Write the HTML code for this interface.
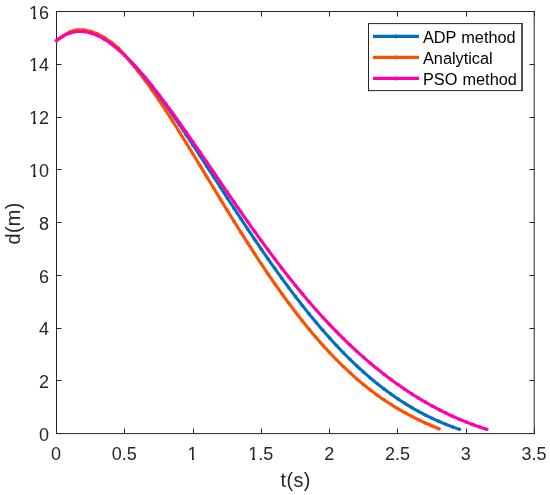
<!DOCTYPE html>
<html><head><meta charset="utf-8"><title>d(m) vs t(s)</title>
<style>
html,body{margin:0;padding:0;background:#fff;}
body{width:550px;height:495px;overflow:hidden;}
svg{display:block;font-family:"Liberation Sans",Arial,sans-serif;}
</style></head><body>
<svg width="550" height="495" viewBox="0 0 550 495">
<rect width="550" height="495" fill="#fff"/>
<g stroke="#262626" stroke-width="1" fill="none"><path d="M56.5,11.5 H534.2 M534.2,11 V434.1 M56,433.6 H534.7 M56.5,11 V434.1"/><line x1="56.5" y1="433.5" x2="56.5" y2="428.5"/><line x1="56.5" y1="11.5" x2="56.5" y2="16.5"/><line x1="124.5" y1="433.5" x2="124.5" y2="428.5"/><line x1="124.5" y1="11.5" x2="124.5" y2="16.5"/><line x1="193.5" y1="433.5" x2="193.5" y2="428.5"/><line x1="193.5" y1="11.5" x2="193.5" y2="16.5"/><line x1="261.5" y1="433.5" x2="261.5" y2="428.5"/><line x1="261.5" y1="11.5" x2="261.5" y2="16.5"/><line x1="329.5" y1="433.5" x2="329.5" y2="428.5"/><line x1="329.5" y1="11.5" x2="329.5" y2="16.5"/><line x1="397.5" y1="433.5" x2="397.5" y2="428.5"/><line x1="397.5" y1="11.5" x2="397.5" y2="16.5"/><line x1="466.5" y1="433.5" x2="466.5" y2="428.5"/><line x1="466.5" y1="11.5" x2="466.5" y2="16.5"/><line x1="534.5" y1="433.5" x2="534.5" y2="428.5"/><line x1="534.5" y1="11.5" x2="534.5" y2="16.5"/><line x1="56.5" y1="433.5" x2="61.5" y2="433.5"/><line x1="534.5" y1="433.5" x2="529.5" y2="433.5"/><line x1="56.5" y1="380.5" x2="61.5" y2="380.5"/><line x1="534.5" y1="380.5" x2="529.5" y2="380.5"/><line x1="56.5" y1="328.5" x2="61.5" y2="328.5"/><line x1="534.5" y1="328.5" x2="529.5" y2="328.5"/><line x1="56.5" y1="275.5" x2="61.5" y2="275.5"/><line x1="534.5" y1="275.5" x2="529.5" y2="275.5"/><line x1="56.5" y1="222.5" x2="61.5" y2="222.5"/><line x1="534.5" y1="222.5" x2="529.5" y2="222.5"/><line x1="56.5" y1="169.5" x2="61.5" y2="169.5"/><line x1="534.5" y1="169.5" x2="529.5" y2="169.5"/><line x1="56.5" y1="117.5" x2="61.5" y2="117.5"/><line x1="534.5" y1="117.5" x2="529.5" y2="117.5"/><line x1="56.5" y1="64.5" x2="61.5" y2="64.5"/><line x1="534.5" y1="64.5" x2="529.5" y2="64.5"/><line x1="56.5" y1="11.5" x2="61.5" y2="11.5"/><line x1="534.5" y1="11.5" x2="529.5" y2="11.5"/></g>
<path d="M56.50,40.72 L58.91,38.82 L61.31,37.13 L63.72,35.50 L66.12,33.98 L68.53,32.62 L70.93,31.48 L73.34,30.61 L75.74,30.08 L78.15,29.86 L80.55,29.81 L82.96,29.93 L85.36,30.22 L87.77,30.67 L90.17,31.28 L92.58,32.03 L94.98,32.92 L97.39,33.96 L99.79,35.12 L102.20,36.42 L104.60,37.83 L107.01,39.37 L109.41,41.01 L111.82,42.76 L114.22,44.65 L116.63,46.70 L119.03,48.93 L121.44,51.36 L123.84,53.97 L126.25,56.75 L128.65,59.66 L131.06,62.63 L133.46,65.61 L135.87,68.55 L138.27,71.56 L140.68,74.66 L143.08,77.82 L145.49,81.05 L147.89,84.35 L150.30,87.71 L152.70,91.12 L155.11,94.59 L157.51,98.11 L159.92,101.68 L162.32,105.29 L164.73,108.95 L167.13,112.64 L169.54,116.37 L171.94,120.13 L174.35,123.92 L176.75,127.74 L179.16,131.59 L181.56,135.46 L183.97,139.34 L186.37,143.25 L188.78,147.17 L191.18,151.10 L193.59,155.04 L195.99,159.00 L198.40,162.96 L200.80,166.92 L203.21,170.89 L205.61,174.86 L208.02,178.83 L210.42,182.80 L212.83,186.77 L215.23,190.73 L217.64,194.68 L220.04,198.63 L222.45,202.57 L224.85,206.50 L227.26,210.41 L229.66,214.32 L232.07,218.21 L234.47,222.08 L236.88,225.94 L239.28,229.78 L241.69,233.61 L244.09,237.41 L246.50,241.19 L248.90,244.95 L251.31,248.68 L253.71,252.39 L256.12,256.08 L258.52,259.74 L260.93,263.37 L263.33,266.98 L265.74,270.55 L268.14,274.10 L270.55,277.62 L272.95,281.10 L275.36,284.55 L277.76,287.97 L280.17,291.36 L282.57,294.71 L284.98,298.02 L287.38,301.31 L289.79,304.55 L292.19,307.76 L294.60,310.93 L297.00,314.06 L299.41,317.16 L301.81,320.21 L304.22,323.23 L306.62,326.20 L309.03,329.14 L311.43,332.04 L313.84,334.89 L316.24,337.71 L318.65,340.48 L321.05,343.21 L323.46,345.90 L325.86,348.55 L328.27,351.16 L330.67,353.72 L333.08,356.25 L335.48,358.72 L337.89,361.16 L340.29,363.56 L342.70,365.91 L345.10,368.22 L347.51,370.49 L349.91,372.71 L352.32,374.90 L354.72,377.04 L357.13,379.14 L359.53,381.20 L361.94,383.21 L364.34,385.19 L366.75,387.12 L369.15,389.02 L371.56,390.87 L373.96,392.69 L376.37,394.46 L378.77,396.20 L381.18,397.90 L383.58,399.56 L385.99,401.18 L388.39,402.77 L390.80,404.32 L393.20,405.83 L395.61,407.31 L398.01,408.75 L400.42,410.16 L402.82,411.54 L405.23,412.88 L407.63,414.20 L410.04,415.48 L412.44,416.73 L414.85,417.95 L417.25,419.15 L419.66,420.32 L422.06,421.46 L424.47,422.57 L426.87,423.66 L429.28,424.73 L431.68,425.78 L434.09,426.80 L436.49,427.80 L438.90,428.79" fill="none" stroke="#FF5000" stroke-width="3.1" stroke-linecap="round" stroke-linejoin="round"/>
<g fill="#FF5000"><circle cx="70.16" cy="31.82" r="1.8"/><circle cx="76.99" cy="29.94" r="1.8"/><circle cx="83.81" cy="30.02" r="1.8"/><circle cx="90.64" cy="31.41" r="1.8"/><circle cx="97.47" cy="34.00" r="1.8"/><circle cx="104.30" cy="37.65" r="1.8"/><circle cx="111.13" cy="42.25" r="1.8"/><circle cx="117.96" cy="47.91" r="1.8"/><circle cx="124.79" cy="55.05" r="1.8"/><circle cx="131.61" cy="63.33" r="1.8"/><circle cx="138.44" cy="71.78" r="1.8"/><circle cx="145.27" cy="80.76" r="1.8"/><circle cx="152.10" cy="90.26" r="1.8"/><circle cx="158.93" cy="100.21" r="1.8"/><circle cx="165.76" cy="110.53" r="1.8"/><circle cx="172.59" cy="121.14" r="1.8"/><circle cx="179.41" cy="132.00" r="1.8"/><circle cx="186.24" cy="143.04" r="1.8"/><circle cx="193.07" cy="154.20" r="1.8"/><circle cx="199.90" cy="165.44" r="1.8"/><circle cx="206.73" cy="176.70" r="1.8"/><circle cx="213.56" cy="187.97" r="1.8"/><circle cx="220.39" cy="199.19" r="1.8"/><circle cx="227.21" cy="210.34" r="1.8"/><circle cx="234.04" cy="221.39" r="1.8"/><circle cx="240.87" cy="232.31" r="1.8"/><circle cx="247.70" cy="243.07" r="1.8"/><circle cx="254.53" cy="253.65" r="1.8"/><circle cx="261.36" cy="264.02" r="1.8"/><circle cx="268.19" cy="274.16" r="1.8"/><circle cx="275.01" cy="284.06" r="1.8"/><circle cx="281.84" cy="293.69" r="1.8"/><circle cx="288.67" cy="303.05" r="1.8"/><circle cx="295.50" cy="312.11" r="1.8"/><circle cx="302.33" cy="320.86" r="1.8"/><circle cx="309.16" cy="329.30" r="1.8"/><circle cx="315.99" cy="337.41" r="1.8"/><circle cx="322.81" cy="345.19" r="1.8"/><circle cx="329.64" cy="352.63" r="1.8"/><circle cx="336.47" cy="359.73" r="1.8"/><circle cx="343.30" cy="366.49" r="1.8"/><circle cx="350.13" cy="372.91" r="1.8"/><circle cx="356.96" cy="378.99" r="1.8"/><circle cx="363.79" cy="384.73" r="1.8"/><circle cx="370.61" cy="390.15" r="1.8"/><circle cx="377.44" cy="395.24" r="1.8"/><circle cx="384.27" cy="400.02" r="1.8"/><circle cx="391.10" cy="404.51" r="1.8"/><circle cx="397.93" cy="408.70" r="1.8"/><circle cx="404.76" cy="412.62" r="1.8"/><circle cx="411.59" cy="416.29" r="1.8"/><circle cx="418.41" cy="419.71" r="1.8"/><circle cx="425.24" cy="422.93" r="1.8"/><circle cx="432.07" cy="425.94" r="1.8"/><circle cx="438.90" cy="428.79" r="1.8"/></g>
<path d="M128.00,58.65 L130.08,60.78 L132.17,62.97 L134.25,65.22 L136.34,67.53 L138.42,69.90 L140.51,72.33 L142.59,74.80 L144.67,77.33 L146.76,79.90 L148.84,82.51 L150.93,85.16 L153.01,87.85 L155.09,90.57 L157.18,93.34 L159.26,96.14 L161.35,98.97 L163.43,101.84 L165.52,104.74 L167.60,107.66 L169.68,110.62 L171.77,113.60 L173.85,116.60 L175.94,119.63 L178.02,122.68 L180.10,125.74 L182.19,128.83 L184.27,131.94 L186.36,135.06 L188.44,138.19 L190.53,141.34 L192.61,144.50 L194.69,147.68 L196.78,150.86 L198.86,154.05 L200.95,157.25 L203.03,160.46 L205.11,163.67 L207.20,166.88 L209.28,170.10 L211.37,173.32 L213.45,176.55 L215.54,179.77 L217.62,182.99 L219.70,186.22 L221.79,189.44 L223.87,192.65 L225.96,195.87 L228.04,199.08 L230.13,202.28 L232.21,205.48 L234.29,208.67 L236.38,211.86 L238.46,215.03 L240.55,218.20 L242.63,221.36 L244.71,224.51 L246.80,227.65 L248.88,230.77 L250.97,233.89 L253.05,236.99 L255.14,240.08 L257.22,243.16 L259.30,246.22 L261.39,249.27 L263.47,252.30 L265.56,255.32 L267.64,258.32 L269.72,261.30 L271.81,264.27 L273.89,267.22 L275.98,270.15 L278.06,273.06 L280.15,275.95 L282.23,278.83 L284.31,281.68 L286.40,284.51 L288.48,287.33 L290.57,290.12 L292.65,292.89 L294.73,295.63 L296.82,298.36 L298.90,301.06 L300.99,303.74 L303.07,306.39 L305.16,309.02 L307.24,311.63 L309.32,314.21 L311.41,316.77 L313.49,319.30 L315.58,321.81 L317.66,324.29 L319.75,326.75 L321.83,329.18 L323.91,331.58 L326.00,333.96 L328.08,336.31 L330.17,338.63 L332.25,340.93 L334.33,343.20 L336.42,345.44 L338.50,347.66 L340.59,349.84 L342.67,352.00 L344.76,354.13 L346.84,356.24 L348.92,358.31 L351.01,360.36 L353.09,362.38 L355.18,364.37 L357.26,366.33 L359.34,368.26 L361.43,370.16 L363.51,372.04 L365.60,373.89 L367.68,375.70 L369.77,377.49 L371.85,379.25 L373.93,380.99 L376.02,382.69 L378.10,384.37 L380.19,386.01 L382.27,387.63 L384.35,389.23 L386.44,390.79 L388.52,392.32 L390.61,393.83 L392.69,395.31 L394.78,396.76 L396.86,398.19 L398.94,399.58 L401.03,400.95 L403.11,402.29 L405.20,403.61 L407.28,404.90 L409.37,406.16 L411.45,407.40 L413.53,408.61 L415.62,409.80 L417.70,410.96 L419.79,412.09 L421.87,413.21 L423.95,414.29 L426.04,415.35 L428.12,416.39 L430.21,417.41 L432.29,418.40 L434.38,419.37 L436.46,420.31 L438.54,421.24 L440.63,422.14 L442.71,423.02 L444.80,423.88 L446.88,424.72 L448.96,425.54 L451.05,426.34 L453.13,427.12 L455.22,427.88 L457.30,428.63 L459.39,429.35" fill="none" stroke="#0070BE" stroke-width="3.1" stroke-linecap="round" stroke-linejoin="round"/>
<g fill="#0070BE"><circle cx="145.27" cy="78.07" r="1.8"/><circle cx="152.10" cy="86.67" r="1.8"/><circle cx="158.93" cy="95.69" r="1.8"/><circle cx="165.76" cy="105.07" r="1.8"/><circle cx="172.59" cy="114.77" r="1.8"/><circle cx="179.41" cy="124.73" r="1.8"/><circle cx="186.24" cy="134.89" r="1.8"/><circle cx="193.07" cy="145.21" r="1.8"/><circle cx="199.90" cy="155.64" r="1.8"/><circle cx="206.73" cy="166.16" r="1.8"/><circle cx="213.56" cy="176.71" r="1.8"/><circle cx="220.39" cy="187.27" r="1.8"/><circle cx="227.21" cy="197.80" r="1.8"/><circle cx="234.04" cy="208.29" r="1.8"/><circle cx="240.87" cy="218.69" r="1.8"/><circle cx="247.70" cy="229.00" r="1.8"/><circle cx="254.53" cy="239.18" r="1.8"/><circle cx="261.36" cy="249.22" r="1.8"/><circle cx="268.19" cy="259.10" r="1.8"/><circle cx="275.01" cy="268.80" r="1.8"/><circle cx="281.84" cy="278.30" r="1.8"/><circle cx="288.67" cy="287.58" r="1.8"/><circle cx="295.50" cy="296.64" r="1.8"/><circle cx="302.33" cy="305.45" r="1.8"/><circle cx="309.16" cy="314.01" r="1.8"/><circle cx="315.99" cy="322.30" r="1.8"/><circle cx="322.81" cy="330.32" r="1.8"/><circle cx="329.64" cy="338.05" r="1.8"/><circle cx="336.47" cy="345.50" r="1.8"/><circle cx="343.30" cy="352.65" r="1.8"/><circle cx="350.13" cy="359.50" r="1.8"/><circle cx="356.96" cy="366.04" r="1.8"/><circle cx="363.79" cy="372.28" r="1.8"/><circle cx="370.61" cy="378.21" r="1.8"/><circle cx="377.44" cy="383.84" r="1.8"/><circle cx="384.27" cy="389.16" r="1.8"/><circle cx="391.10" cy="394.18" r="1.8"/><circle cx="397.93" cy="398.90" r="1.8"/><circle cx="404.76" cy="403.34" r="1.8"/><circle cx="411.59" cy="407.48" r="1.8"/><circle cx="418.41" cy="411.35" r="1.8"/><circle cx="425.24" cy="414.95" r="1.8"/><circle cx="432.07" cy="418.29" r="1.8"/><circle cx="438.90" cy="421.39" r="1.8"/><circle cx="445.73" cy="424.26" r="1.8"/><circle cx="452.56" cy="426.91" r="1.8"/><circle cx="459.39" cy="429.35" r="1.8"/></g>
<path d="M56.50,40.72 L59.21,38.60 L61.91,36.78 L64.62,35.24 L67.32,33.97 L70.03,32.97 L72.73,32.23 L75.44,31.72 L78.15,31.46 L80.85,31.41 L83.56,31.59 L86.26,31.97 L88.97,32.55 L91.67,33.33 L94.38,34.29 L97.08,35.42 L99.79,36.72 L102.50,38.19 L105.20,39.81 L107.91,41.57 L110.61,43.47 L113.32,45.51 L116.02,47.68 L118.73,49.97 L121.44,52.37 L124.14,54.88 L126.85,57.50 L129.55,60.22 L132.26,63.03 L134.96,65.93 L137.67,68.92 L140.38,71.98 L143.08,75.12 L145.79,78.33 L148.49,81.61 L151.20,84.95 L153.90,88.35 L156.61,91.80 L159.32,95.31 L162.02,98.86 L164.73,102.46 L167.43,106.11 L170.14,109.79 L172.84,113.51 L175.55,117.26 L178.25,121.05 L180.96,124.86 L183.67,128.70 L186.37,132.56 L189.08,136.44 L191.78,140.35 L194.49,144.26 L197.19,148.20 L199.90,152.14 L202.61,156.09 L205.31,160.06 L208.02,164.02 L210.72,167.99 L213.43,171.96 L216.13,175.94 L218.84,179.91 L221.55,183.87 L224.25,187.83 L226.96,191.79 L229.66,195.73 L232.37,199.66 L235.07,203.59 L237.78,207.50 L240.48,211.39 L243.19,215.27 L245.90,219.13 L248.60,222.98 L251.31,226.80 L254.01,230.60 L256.72,234.38 L259.42,238.13 L262.13,241.87 L264.84,245.57 L267.54,249.25 L270.25,252.90 L272.95,256.52 L275.66,260.12 L278.36,263.68 L281.07,267.21 L283.78,270.71 L286.48,274.18 L289.19,277.61 L291.89,281.01 L294.60,284.37 L297.30,287.70 L300.01,291.00 L302.72,294.25 L305.42,297.47 L308.13,300.66 L310.83,303.80 L313.54,306.91 L316.24,309.98 L318.95,313.01 L321.65,316.00 L324.36,318.95 L327.07,321.87 L329.77,324.74 L332.48,327.58 L335.18,330.37 L337.89,333.13 L340.59,335.85 L343.30,338.53 L346.01,341.17 L348.71,343.77 L351.42,346.33 L354.12,348.86 L356.83,351.34 L359.53,353.79 L362.24,356.20 L364.95,358.58 L367.65,360.91 L370.36,363.21 L373.06,365.47 L375.77,367.70 L378.47,369.89 L381.18,372.04 L383.88,374.15 L386.59,376.23 L389.30,378.28 L392.00,380.29 L394.71,382.26 L397.41,384.19 L400.12,386.10 L402.82,387.96 L405.53,389.80 L408.24,391.59 L410.94,393.35 L413.65,395.08 L416.35,396.78 L419.06,398.44 L421.76,400.06 L424.47,401.65 L427.18,403.21 L429.88,404.74 L432.59,406.23 L435.29,407.68 L438.00,409.11 L440.70,410.50 L443.41,411.86 L446.12,413.19 L448.82,414.48 L451.53,415.74 L454.23,416.97 L456.94,418.17 L459.64,419.34 L462.35,420.47 L465.05,421.57 L467.76,422.64 L470.47,423.68 L473.17,424.69 L475.88,425.67 L478.58,426.62 L481.29,427.53 L483.99,428.42 L486.70,429.27" fill="none" stroke="#FF00AA" stroke-width="3.1" stroke-linecap="round" stroke-linejoin="round"/>
<g fill="#FF00AA"><circle cx="56.50" cy="40.72" r="1.8"/><circle cx="63.33" cy="35.94" r="1.8"/><circle cx="70.16" cy="32.93" r="1.8"/><circle cx="76.99" cy="31.54" r="1.8"/><circle cx="83.81" cy="31.62" r="1.8"/><circle cx="90.64" cy="33.01" r="1.8"/><circle cx="97.47" cy="35.60" r="1.8"/><circle cx="104.30" cy="39.25" r="1.8"/><circle cx="111.13" cy="43.85" r="1.8"/><circle cx="117.96" cy="49.30" r="1.8"/><circle cx="124.79" cy="55.50" r="1.8"/><circle cx="131.61" cy="62.35" r="1.8"/><circle cx="138.44" cy="69.78" r="1.8"/><circle cx="145.27" cy="77.72" r="1.8"/><circle cx="152.10" cy="86.08" r="1.8"/><circle cx="158.93" cy="94.80" r="1.8"/><circle cx="165.76" cy="103.85" r="1.8"/><circle cx="172.59" cy="113.15" r="1.8"/><circle cx="179.41" cy="122.68" r="1.8"/><circle cx="186.24" cy="132.38" r="1.8"/><circle cx="193.07" cy="142.21" r="1.8"/><circle cx="199.90" cy="152.14" r="1.8"/><circle cx="206.73" cy="162.13" r="1.8"/><circle cx="213.56" cy="172.15" r="1.8"/><circle cx="220.39" cy="182.17" r="1.8"/><circle cx="227.21" cy="192.16" r="1.8"/><circle cx="234.04" cy="202.09" r="1.8"/><circle cx="240.87" cy="211.95" r="1.8"/><circle cx="247.70" cy="221.70" r="1.8"/><circle cx="254.53" cy="231.32" r="1.8"/><circle cx="261.36" cy="240.80" r="1.8"/><circle cx="268.19" cy="250.12" r="1.8"/><circle cx="275.01" cy="259.26" r="1.8"/><circle cx="281.84" cy="268.21" r="1.8"/><circle cx="288.67" cy="276.96" r="1.8"/><circle cx="295.50" cy="285.49" r="1.8"/><circle cx="302.33" cy="293.79" r="1.8"/><circle cx="309.16" cy="301.86" r="1.8"/><circle cx="315.99" cy="309.69" r="1.8"/><circle cx="322.81" cy="317.27" r="1.8"/><circle cx="329.64" cy="324.60" r="1.8"/><circle cx="336.47" cy="331.69" r="1.8"/><circle cx="343.30" cy="338.53" r="1.8"/><circle cx="350.13" cy="345.11" r="1.8"/><circle cx="356.96" cy="351.46" r="1.8"/><circle cx="363.79" cy="357.56" r="1.8"/><circle cx="370.61" cy="363.43" r="1.8"/><circle cx="377.44" cy="369.06" r="1.8"/><circle cx="384.27" cy="374.45" r="1.8"/><circle cx="391.10" cy="379.62" r="1.8"/><circle cx="397.93" cy="384.56" r="1.8"/><circle cx="404.76" cy="389.28" r="1.8"/><circle cx="411.59" cy="393.77" r="1.8"/><circle cx="418.41" cy="398.04" r="1.8"/><circle cx="425.24" cy="402.10" r="1.8"/><circle cx="432.07" cy="405.94" r="1.8"/><circle cx="438.90" cy="409.58" r="1.8"/><circle cx="445.73" cy="413.00" r="1.8"/><circle cx="452.56" cy="416.22" r="1.8"/><circle cx="459.39" cy="419.23" r="1.8"/><circle cx="466.21" cy="422.04" r="1.8"/><circle cx="473.04" cy="424.64" r="1.8"/><circle cx="479.87" cy="427.06" r="1.8"/><circle cx="486.70" cy="429.27" r="1.8"/></g>
<g font-size="18" fill="#262626"><text x="56.00" y="459.5" text-anchor="middle">0</text><text x="124.29" y="459.5" text-anchor="middle">0.5</text><text x="192.57" y="459.5" text-anchor="middle">1</text><text x="260.86" y="459.5" text-anchor="middle">1.5</text><text x="329.14" y="459.5" text-anchor="middle">2</text><text x="397.43" y="459.5" text-anchor="middle">2.5</text><text x="465.71" y="459.5" text-anchor="middle">3</text><text x="534.00" y="459.5" text-anchor="middle">3.5</text><text x="49" y="440.80" text-anchor="end">0</text><text x="49" y="388.05" text-anchor="end">2</text><text x="49" y="335.30" text-anchor="end">4</text><text x="49" y="282.55" text-anchor="end">6</text><text x="49" y="229.80" text-anchor="end">8</text><text x="49" y="177.05" text-anchor="end">10</text><text x="49" y="124.30" text-anchor="end">12</text><text x="49" y="70.75" text-anchor="end">14</text><text x="49" y="18.60" text-anchor="end">16</text></g>
<g fill="#fff"><rect x="30" y="17" width="3" height="2"/><rect x="36" y="17" width="3" height="2"/><rect x="30" y="69" width="3" height="2"/><rect x="36" y="69" width="3" height="2"/><rect x="30" y="122" width="3" height="2"/><rect x="36" y="122" width="3" height="2"/><rect x="30" y="175" width="3" height="2"/><rect x="36" y="175" width="3" height="2"/><rect x="188" y="458" width="4" height="2"/><rect x="194" y="458" width="3" height="2"/><rect x="249" y="458" width="3" height="2"/><rect x="255" y="458" width="3" height="2"/></g>
<text x="295.6" y="486.6" text-anchor="middle" font-size="19.8" letter-spacing="0.4" fill="#262626">t(s)</text>
<text transform="translate(20,223.4) rotate(-90)" x="0" y="0" text-anchor="middle" font-size="19.8" letter-spacing="0.4" fill="#262626">d(m)</text>
<rect x="368.5" y="23.6" width="153.5" height="67" fill="#fff" stroke="none"/><path d="M368.5,23.1 V91.1 M368,23.6 H522.6 M368,90.6 H522.6 M522,23.1 V91.1" fill="none" stroke="#262626" stroke-width="1"/><path d="M522,23.1 V91.1" fill="none" stroke="#262626" stroke-width="1.5" stroke-opacity="0.8"/><line x1="373" y1="36.4" x2="419" y2="36.4" stroke="#0070BE" stroke-width="3.1"/><circle cx="396" cy="36.4" r="2.0" fill="#0070BE"/><text x="423" y="42.5" font-size="16.3" word-spacing="0.6" fill="#000">ADP method</text><line x1="373" y1="57.4" x2="419" y2="57.4" stroke="#FF5000" stroke-width="3.1"/><circle cx="396" cy="57.4" r="2.0" fill="#FF5000"/><text x="423" y="63.5" font-size="16.3" word-spacing="0.6" fill="#000">Analytical</text><line x1="373" y1="78.4" x2="419" y2="78.4" stroke="#FF00AA" stroke-width="3.1"/><circle cx="396" cy="78.4" r="2.0" fill="#FF00AA"/><text x="423" y="84.5" font-size="16.3" word-spacing="0.6" fill="#000">PSO method</text>
</svg>
</body></html>
